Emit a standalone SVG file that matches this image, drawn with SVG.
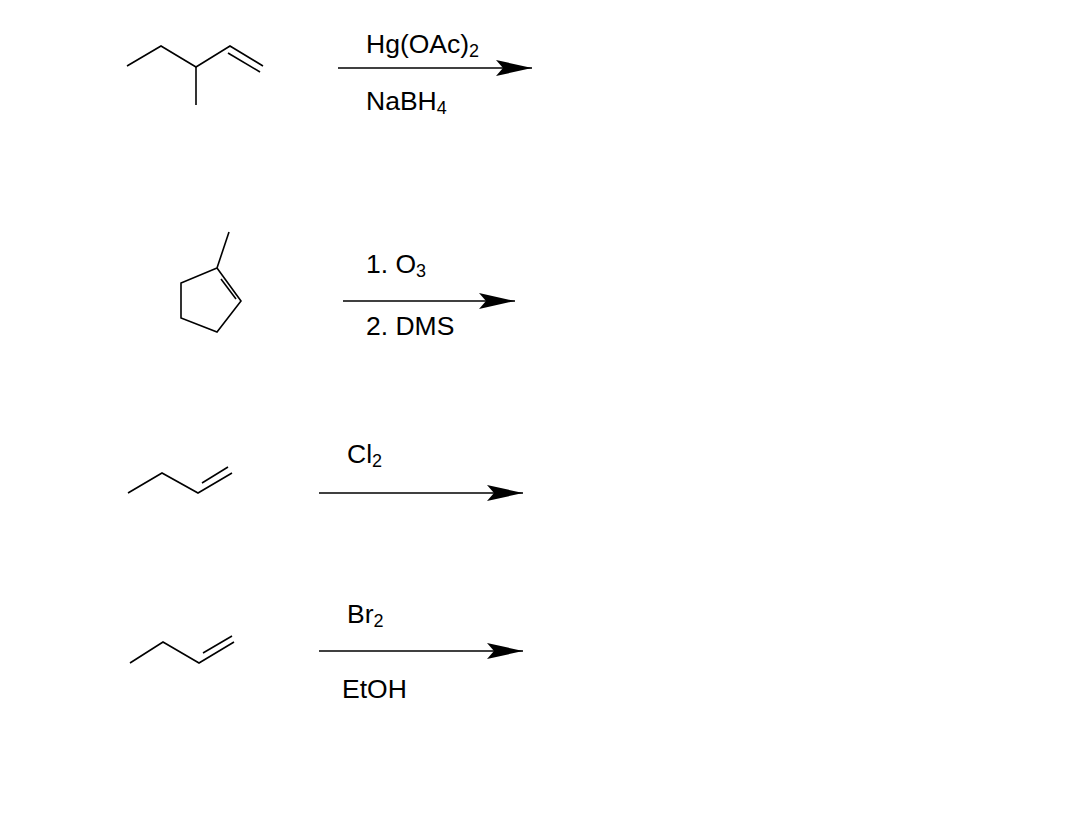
<svg xmlns="http://www.w3.org/2000/svg" width="1078" height="818" viewBox="0 0 1078 818">
<style>
.b{fill:none;stroke:#000;stroke-width:1.6;stroke-linejoin:miter}
.a{stroke:#000;stroke-width:1.6}
text{font-family:"Liberation Sans",Arial,sans-serif;font-size:26.5px;fill:#000}
.s{font-size:18px}
</style>
<defs><marker id="h" markerUnits="userSpaceOnUse" markerWidth="37" markerHeight="18" refX="36" refY="9" orient="auto"><path d="M0,1 L36,9 L0,17 L7,9 Z"/></marker></defs>
<rect width="1078" height="818" fill="#fff"/>
<g id="mol1"><polyline class="b" points="127,66 161,46 196,67 230,46 263,66"/><line class="b" x1="196" y1="67" x2="196" y2="105"/><line class="b" x1="228" y1="53" x2="260" y2="72"/></g>
<g id="mol2"><polyline class="b" points="217,268 241,301 217,332 181,318 181,283 217,268"/><line class="b" x1="217" y1="268" x2="229" y2="232"/><line class="b" x1="221" y1="279" x2="236" y2="299"/></g>
<g id="mol3"><polyline class="b" points="128,493 162,473 198,493 232,473"/><line class="b" x1="202" y1="483" x2="228" y2="467"/></g>
<g id="mol4"><polyline class="b" points="130,663 163,642 199,663 234,642"/><line class="b" x1="203" y1="653" x2="232" y2="636"/></g>
<g id="connectors">
<line class="a" x1="338" y1="68" x2="532" y2="68" marker-end="url(#h)"/>
<line class="a" x1="343" y1="301" x2="515" y2="301" marker-end="url(#h)"/>
<line class="a" x1="319" y1="493" x2="523" y2="493" marker-end="url(#h)"/>
<line class="a" x1="319" y1="651" x2="523" y2="651" marker-end="url(#h)"/>
</g>
<g id="labels">
<text x="366" y="53">Hg(OAc)<tspan class="s" dy="4">2</tspan></text>
<text x="366" y="110">NaBH<tspan class="s" dy="4">4</tspan></text>
<text x="366" y="273">1. O<tspan class="s" dy="4">3</tspan></text>
<text x="366" y="335">2. DMS</text>
<text x="347" y="463">Cl<tspan class="s" dy="4">2</tspan></text>
<text x="347" y="623">Br<tspan class="s" dy="4">2</tspan></text>
<text x="342" y="698">EtOH</text>
</g>
</svg>
